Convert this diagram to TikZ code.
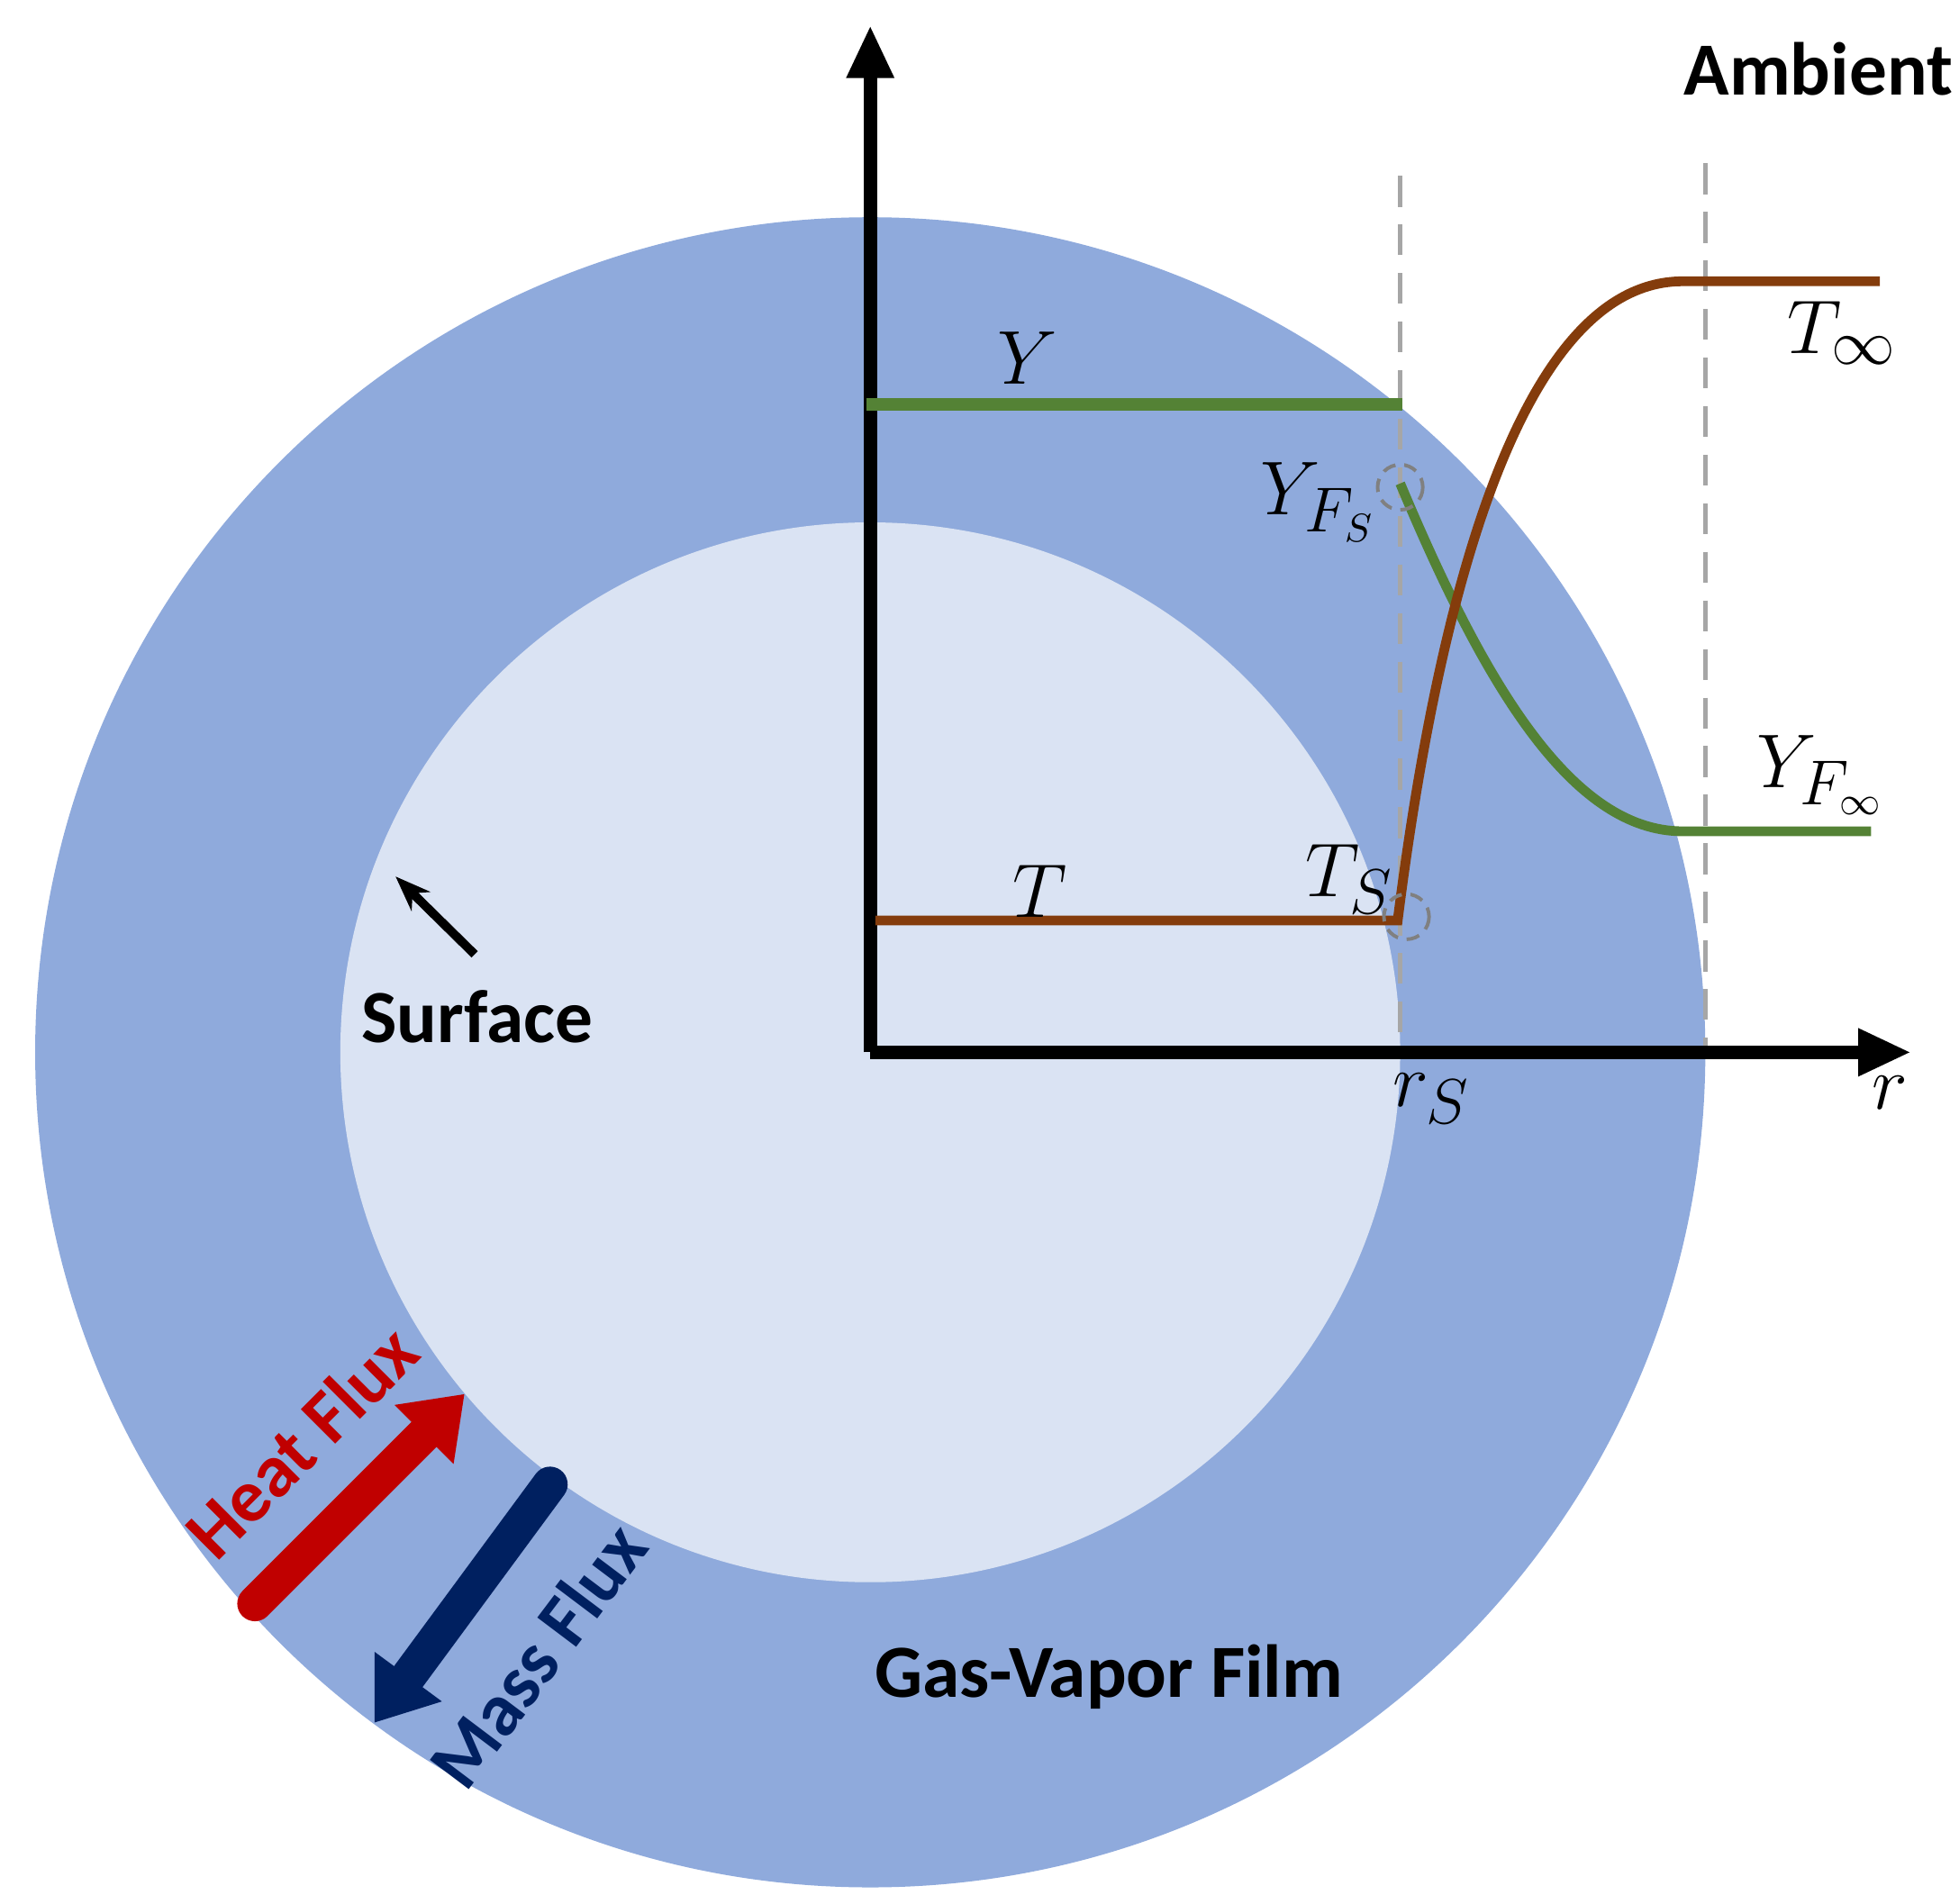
\documentclass[tikz,border=0pt]{standalone}
\usepackage{fontspec}
\setmainfont{Carlito}
\usepackage{tikz}
\usetikzlibrary{arrows.meta}
\definecolor{filmblue}{HTML}{8FAADC}
\definecolor{dropblue}{HTML}{DAE3F3}
\definecolor{profgreen}{HTML}{548235}
\definecolor{profbrown}{HTML}{843C0C}
\definecolor{heatred}{HTML}{C00000}
\definecolor{massnavy}{HTML}{002060}
\tikzset{
  lbl/.style={font=\fontsize{17}{20}\selectfont\bfseries},
  sym/.style={font=\fontsize{19}{22}\selectfont},
  guide/.style={gray!70, dashed, dash pattern=on 7pt off 4pt, line width=1pt},
  ring/.style={gray, densely dashed, line width=0.8pt}
}
\begin{document}
\begin{tikzpicture}[x=0.01cm,y=-0.01cm]
		\useasboundingbox (0,0) rectangle (1560,1515.6);
		% film and droplet
		\fill[filmblue] (693,838) circle (665);
		\fill[dropblue] (693,838) circle (422);
		% guides
		\draw[guide] (1115,140) -- (1115,838);
		\draw[guide] (1358,130) -- (1358,838);
		% axes
		\coordinate (o) at (693,838);
		\coordinate (ytop) at (693,20);
		\coordinate (xend) at (1522,838);
		\draw[line width=3pt,-{Triangle[length=12pt,width=10pt]}] (o) -- (ytop);
		\draw[line width=3pt,-{Triangle[length=12pt,width=10pt]}] (o) -- (xend);
		% profiles
		\draw[profgreen, line width=3pt] (690,322) -- (1117,322);
		\draw[profgreen, line width=2.2pt] (1115,385) .. controls (1180,540) and (1250,662) .. (1340,662) -- (1490,662);
		\draw[profbrown, line width=2.2pt] (697,733) -- (1113,733) .. controls (1140,520) and (1200,224) .. (1340,224) -- (1497,224);
		\draw[ring] (1115,388) circle (18);
		\draw[ring] (1120,730) circle (18);
		% labels
		\node[sym] (ylab) at (818,285) {$Y$};
		\node[sym] (yfs) at (1050,400) {$Y_{F_S}$};
		\node[sym] (tlab) at (828,710) {$T$};
		\node[sym] (ts) at (1075,700) {$T_S$};
		\node[sym] (tinf) at (1467,265) {$T_\infty$};
		\node[sym] (yfinf) at (1450,617) {$Y_{F_\infty}$};
		\node[sym] (rs) at (1140,875) {$r_S$};
		\node[sym] (rlab) at (1505,870) {$r$};
		\node[lbl] (amb) at (1448,55) {Ambient};
		\node[lbl] (surf) at (380,810) {Surface};
		\node[lbl] (film) at (883,1335) {Gas-Vapor Film};
		% arrows
		\coordinate (sa) at (378,760);
		\coordinate (sb) at (315,698);
		\draw[line width=2pt,-{Stealth[length=8pt]}] (sa) -- (sb);
		\coordinate (ha) at (203,1277);
		\coordinate (hb) at (370,1110);
		\draw[heatred, line width=8pt, line cap=round, -{Triangle[length=13pt,width=18pt]}] (ha) -- (hb);
		\node[lbl, heatred, rotate=45] (heat) at (240,1148) {Heat Flux};
		\coordinate (ma) at (438,1182);
		\coordinate (mb) at (298,1372);
		\draw[massnavy, line width=8pt, line cap=round, -{Triangle[length=13pt,width=18pt]}] (ma) -- (mb);
		\node[lbl, massnavy, rotate=53] (mass) at (428,1318) {Mass Flux};
	\end{tikzpicture}
\end{document}
